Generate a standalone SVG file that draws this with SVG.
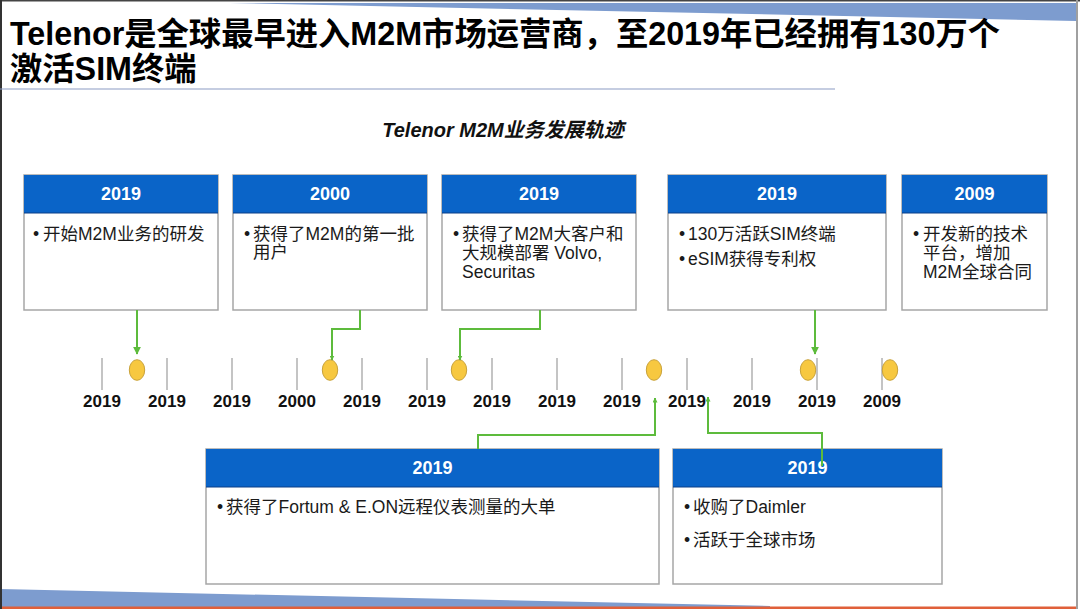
<svg xmlns="http://www.w3.org/2000/svg" width="1080" height="609" viewBox="0 0 1080 609">
<defs>
<style>
.t{font-family:"Liberation Sans","Noto Sans CJK SC",sans-serif;}
.title{font-size:32.3px;font-weight:bold;fill:#000;}
.sub{font-size:20px;font-weight:bold;font-style:italic;fill:#111;text-anchor:middle;}
.hd{font-size:18px;font-weight:bold;fill:#fff;text-anchor:middle;}
.bd{font-size:17.5px;fill:#1a1a1a;}
.yr{font-size:17px;font-weight:bold;fill:#111;text-anchor:middle;}
.hbox{fill:#0a64c8;}
.hline{stroke:#0a3f88;stroke-width:1.2;}
.body{fill:#fff;stroke:#a6a6a6;stroke-width:1.5;}
.tick{stroke:#b0b0b0;stroke-width:1.5;}
.dot{fill:#f7c840;stroke:#c9a23a;stroke-width:1;}
.con{fill:none;stroke:#5dbb3c;stroke-width:2;}
</style>
<marker id="ah" viewBox="0 0 10 10" refX="9" refY="5" markerWidth="4" markerHeight="4" orient="auto" markerUnits="strokeWidth">
<path d="M0,0 L10,5 L0,10 z" fill="#5dbb3c"/>
</marker>
<marker id="ahs" viewBox="0 0 10 10" refX="9" refY="5" markerWidth="2.5" markerHeight="2.5" orient="auto" markerUnits="strokeWidth">
<path d="M0,0 L10,5 L0,10 z" fill="#5dbb3c"/>
</marker>
</defs>
<rect x="0" y="0" width="1080" height="609" fill="#fff"/>
<g id="frame">
<polygon points="230,3 1076,3 1076,21" fill="#7d9ccf"/>
<polygon points="0,589 770,606 770,607 0,607" fill="#7d9ccf"/>
<rect x="0" y="606.5" width="1077" height="2.5" fill="#e0603a"/>
<rect x="0" y="0" width="1080" height="1.5" fill="#444"/>
<rect x="0" y="0" width="2" height="609" fill="#333"/>
<rect x="1076" y="0" width="2" height="609" fill="#a0a0a0"/>
<line x1="0" y1="89" x2="835" y2="89" stroke="#8c9cc4" stroke-width="1.2"/>
</g>
<g id="title">
<text class="t title" x="10" y="45">Telenor是全球最早进入M2M市场运营商，至2019年已经拥有130万个</text>
<text class="t title" x="10" y="80">激活SIM终端</text>
<text class="t sub" x="503" y="137">Telenor M2M业务发展轨迹</text>
</g>
<g id="timeline">
<g class="ticks">
<line class="tick" x1="102" y1="358" x2="102" y2="390"/>
<line class="tick" x1="167" y1="358" x2="167" y2="390"/>
<line class="tick" x1="232" y1="358" x2="232" y2="390"/>
<line class="tick" x1="297" y1="358" x2="297" y2="390"/>
<line class="tick" x1="362" y1="358" x2="362" y2="390"/>
<line class="tick" x1="427" y1="358" x2="427" y2="390"/>
<line class="tick" x1="492" y1="358" x2="492" y2="390"/>
<line class="tick" x1="557" y1="358" x2="557" y2="390"/>
<line class="tick" x1="622" y1="358" x2="622" y2="390"/>
<line class="tick" x1="687" y1="358" x2="687" y2="390"/>
<line class="tick" x1="752" y1="358" x2="752" y2="390"/>
<line class="tick" x1="817" y1="358" x2="817" y2="390"/>
<line class="tick" x1="882" y1="358" x2="882" y2="390"/>
</g>
<g class="t yr">
<text x="102" y="407">2019</text>
<text x="167" y="407">2019</text>
<text x="232" y="407">2019</text>
<text x="297" y="407">2000</text>
<text x="362" y="407">2019</text>
<text x="427" y="407">2019</text>
<text x="492" y="407">2019</text>
<text x="557" y="407">2019</text>
<text x="622" y="407">2019</text>
<text x="687" y="407">2019</text>
<text x="752" y="407">2019</text>
<text x="817" y="407">2019</text>
<text x="882" y="407">2009</text>
</g>
<ellipse id="m1" class="dot" cx="137" cy="370" rx="7.7" ry="10.3"/>
<ellipse id="m2" class="dot" cx="330" cy="370" rx="7.7" ry="10.3"/>
<ellipse id="m3" class="dot" cx="459" cy="370" rx="7.7" ry="10.3"/>
<ellipse id="m4" class="dot" cx="654" cy="370" rx="7.7" ry="10.3"/>
<ellipse id="m5" class="dot" cx="808" cy="370" rx="7.7" ry="10.3"/>
<ellipse id="m6" class="dot" cx="890" cy="370" rx="7.7" ry="10.3"/>
</g>
<g id="card1">
<rect class="body" x="24" y="175" width="194" height="135"/>
<rect class="hbox" x="24" y="175" width="194" height="38"/>
<line class="hline" x1="24" y1="213" x2="218" y2="213"/>
<text class="t hd" x="121" y="200">2019</text>
<text class="t bd" x="33" y="240">•</text>
<text class="t bd" x="43" y="240">开始M2M业务的研发</text>
</g>
<g id="card2">
<rect class="body" x="233" y="175" width="194" height="135"/>
<rect class="hbox" x="233" y="175" width="194" height="38"/>
<line class="hline" x1="233" y1="213" x2="427" y2="213"/>
<text class="t hd" x="330" y="200">2000</text>
<text class="t bd" x="244" y="240">•</text>
<text class="t bd" x="253" y="240">获得了M2M的第一批</text>
<text class="t bd" x="253" y="258">用户</text>
</g>
<g id="card3">
<rect class="body" x="442" y="175" width="194" height="135"/>
<rect class="hbox" x="442" y="175" width="194" height="38"/>
<line class="hline" x1="442" y1="213" x2="636" y2="213"/>
<text class="t hd" x="539" y="200">2019</text>
<text class="t bd" x="453" y="240">•</text>
<text class="t bd" x="462" y="240">获得了M2M大客户和</text>
<text class="t bd" x="462" y="259">大规模部署 Volvo,</text>
<text class="t bd" x="462" y="278">Securitas</text>
</g>
<g id="card4">
<rect class="body" x="668" y="175" width="218" height="135"/>
<rect class="hbox" x="668" y="175" width="218" height="38"/>
<line class="hline" x1="668" y1="213" x2="886" y2="213"/>
<text class="t hd" x="777" y="200">2019</text>
<text class="t bd" x="679" y="240">•</text>
<text class="t bd" x="688" y="240">130万活跃SIM终端</text>
<text class="t bd" x="679" y="265">•</text>
<text class="t bd" x="688" y="265">eSIM获得专利权</text>
</g>
<g id="card5">
<rect class="body" x="902" y="175" width="145" height="135"/>
<rect class="hbox" x="902" y="175" width="145" height="38"/>
<line class="hline" x1="902" y1="213" x2="1047" y2="213"/>
<text class="t hd" x="974.5" y="200">2009</text>
<text class="t bd" x="913" y="240">•</text>
<text class="t bd" x="923" y="240">开发新的技术</text>
<text class="t bd" x="923" y="259">平台，增加</text>
<text class="t bd" x="923" y="278">M2M全球合同</text>
</g>
<g id="card6">
<rect class="body" x="206" y="449" width="453" height="135"/>
<rect class="hbox" x="206" y="449" width="453" height="38"/>
<line class="hline" x1="206" y1="487" x2="659" y2="487"/>
<text class="t hd" x="432.5" y="474">2019</text>
<text class="t bd" x="217" y="513">•</text>
<text class="t bd" x="226" y="513">获得了Fortum &amp; E.ON远程仪表测量的大单</text>
</g>
<g id="card7">
<rect class="body" x="673" y="449" width="269" height="135"/>
<rect class="hbox" x="673" y="449" width="269" height="38"/>
<line class="hline" x1="673" y1="487" x2="942" y2="487"/>
<text class="t hd" x="807.5" y="474">2019</text>
<text class="t bd" x="684" y="513">•</text>
<text class="t bd" x="693" y="513">收购了Daimler</text>
<text class="t bd" x="684" y="546">•</text>
<text class="t bd" x="693" y="546">活跃于全球市场</text>
</g>
<g id="connectors">
<path class="con" d="M137,310 V354" marker-end="url(#ah)"/>
<path class="con" d="M360,310 V329 H332 V360" marker-end="url(#ahs)"/>
<path class="con" d="M540,310 V329 H460 V360" marker-end="url(#ahs)"/>
<path class="con" d="M815,310 V354" marker-end="url(#ah)"/>
<path class="con" d="M478,449 V435 H655 V398" marker-end="url(#ahs)"/>
<path class="con" d="M822,466 V433 H708 V397" marker-end="url(#ahs)"/>
</g>
</svg>
